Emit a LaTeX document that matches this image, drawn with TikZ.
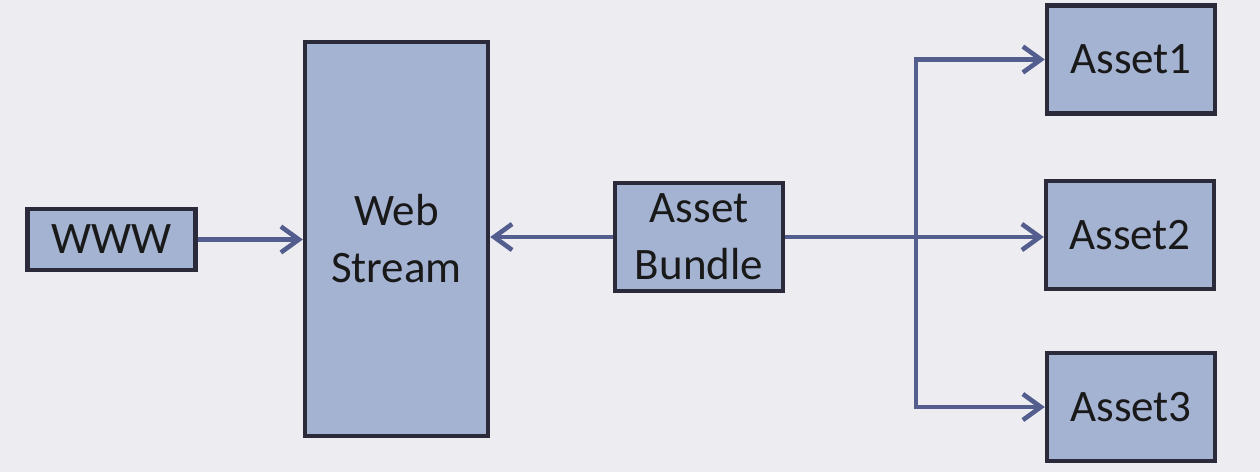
\documentclass[tikz,border=0pt]{standalone}
\usepackage{fontspec}
\setmainfont{Carlito}
\usetikzlibrary{arrows.meta}

\definecolor{pagebg}{HTML}{EDEDF1}
\definecolor{boxfill}{HTML}{A5B3D3}
\definecolor{boxline}{HTML}{2A2A3A}
\definecolor{flow}{HTML}{535D8E}

\begin{document}
\begin{tikzpicture}[x=0.5pt,y=-0.5pt,
    block/.style={draw=boxline, fill=boxfill, line width=2.2pt, inner sep=0pt,
        minimum width=84pt, minimum height=54pt, align=center,
        font=\fontsize{22.5}{28.5}\selectfont, text=black!90},
    flowarrow/.style={draw=flow, line width=2.3pt,
        -{Straight Barb[length=9pt,width=13pt,line width=2.3pt]}}]
            \fill[pagebg] (0,0) rectangle (1260,472);
            \useasboundingbox (0,0) rectangle (1260,472);
            \node[block, minimum height=30.5pt] (www) at (111.5,239.5) {WWW};
            \node[block, minimum width=91.5pt, minimum height=197pt] (stream) at (396.5,239) {Web\\Stream};
            \node[block] (bundle) at (699,237) {Asset\\Bundle};
            \node[block] (asset-1) at (1131,59.5) {Asset1};
            \node[block] (asset-2) at (1130,235) {Asset2};
            \node[block] (asset-3) at (1131,407) {Asset3};
            \coordinate (split) at (916,237);
            \draw[flowarrow] (www) -- (stream.west |- www);
            \draw[flowarrow] (bundle) -- (stream.east |- bundle);
            \draw[flowarrow] (bundle) -- (asset-2.west |- bundle);
            \draw[flowarrow] (split) |- (asset-1);
            \draw[flowarrow] (split) |- (asset-3);
        \end{tikzpicture}
\end{document}
